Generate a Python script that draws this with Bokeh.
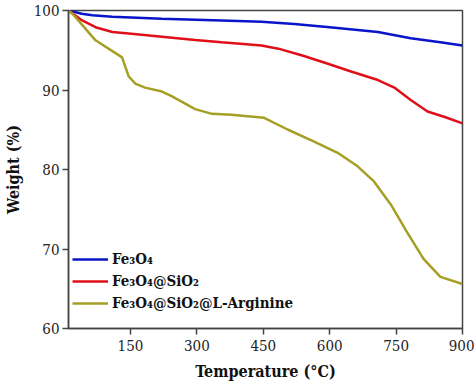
from bokeh.plotting import figure
from bokeh.models import Legend, LegendItem, FixedTicker, Range1d
from bokeh.embed import file_html
from bokeh.resources import INLINE

# Data
temp_fe3o4 = [10, 40, 64, 109, 221, 356, 446, 520, 600, 709, 783, 850, 900]
w_fe3o4 = [100, 99.6, 99.4, 99.2, 98.96, 98.75, 98.6, 98.3, 97.9, 97.3, 96.5, 96.0, 95.6]

temp_sio2 = [10, 41, 71, 109, 146, 221, 296, 356, 446, 484, 540, 596, 650, 709, 746, 783, 821, 860, 900]
w_sio2 = [100, 98.75, 97.9, 97.3, 97.1, 96.7, 96.3, 96.0, 95.6, 95.2, 94.3, 93.3, 92.3, 91.25, 90.3, 88.75, 87.3, 86.6, 85.8]

temp_arg = [10, 19, 71, 131, 146, 161, 183, 221, 244, 296, 334, 378, 452, 506, 565, 618, 663, 700, 738, 775, 812, 850, 900]
w_arg = [100, 99.6, 96.25, 94.1, 91.7, 90.8, 90.3, 89.8, 89.2, 87.6, 87.0, 86.9, 86.5, 85.0, 83.5, 82.1, 80.4, 78.5, 75.6, 72.1, 68.75, 66.5, 65.6]

labels = ["Fe\u2083O\u2084", "Fe\u2083O\u2084@SiO\u2082", "Fe\u2083O\u2084@SiO\u2082@L-Arginine"]
colors = ["#0a14c8", "#e0101a", "#a5a025"]
x_ticks = [150, 300, 450, 600, 750, 900]
y_ticks = [60, 70, 80, 90, 100]

FONT = "DejaVu Serif Condensed"

p = figure(width=474, height=383, output_backend="svg", toolbar_location=None,
           x_range=Range1d(10, 900), y_range=Range1d(60, 100),
           min_border_left=66, min_border_right=12, min_border_top=10, min_border_bottom=54)

r1 = p.line(temp_fe3o4, w_fe3o4, line_color=colors[0], line_width=2.5)
r2 = p.line(temp_sio2, w_sio2, line_color=colors[1], line_width=2.5)
r3 = p.line(temp_arg, w_arg, line_color=colors[2], line_width=2.5)

p.grid.visible = False
p.outline_line_color = "#444444"
p.outline_line_width = 1.5

p.xaxis.ticker = FixedTicker(ticks=x_ticks)
p.yaxis.ticker = FixedTicker(ticks=y_ticks)
for ax in (p.xaxis[0], p.yaxis[0]):
    ax.axis_line_color = "#444444"
    ax.axis_line_width = 1.5
    ax.major_tick_line_color = "#444444"
    ax.major_tick_line_width = 1.5
    ax.major_tick_out = 6
    ax.major_tick_in = 0
    ax.minor_tick_line_color = None
    ax.major_label_text_font = FONT
    ax.major_label_text_font_size = "15px"
    ax.major_label_text_color = "#222222"
    ax.axis_label_text_font = FONT
    ax.axis_label_text_font_size = "16px"
    ax.axis_label_text_font_style = "bold"
    ax.axis_label_text_color = "#111111"

p.xaxis.axis_label = "Temperature (\u00b0C)"
p.yaxis.axis_label = "Weight (%)"
p.xaxis.major_label_standoff = 5
p.yaxis.major_label_standoff = 3
p.xaxis.axis_label_standoff = 8
p.yaxis.axis_label_standoff = 8

legend = Legend(items=[LegendItem(label=labels[0], renderers=[r1]),
                       LegendItem(label=labels[1], renderers=[r2]),
                       LegendItem(label=labels[2], renderers=[r3])],
                location=(4, 15))
legend.background_fill_alpha = 0
legend.border_line_color = None
legend.label_text_font = FONT
legend.label_text_font_size = "15px"
legend.label_text_font_style = "bold"
legend.label_text_color = "#111111"
legend.glyph_width = 36
legend.spacing = 2
legend.label_standoff = 4
legend.padding = 6
p.add_layout(legend)

open("out.html", "w").write(file_html(p, INLINE))
